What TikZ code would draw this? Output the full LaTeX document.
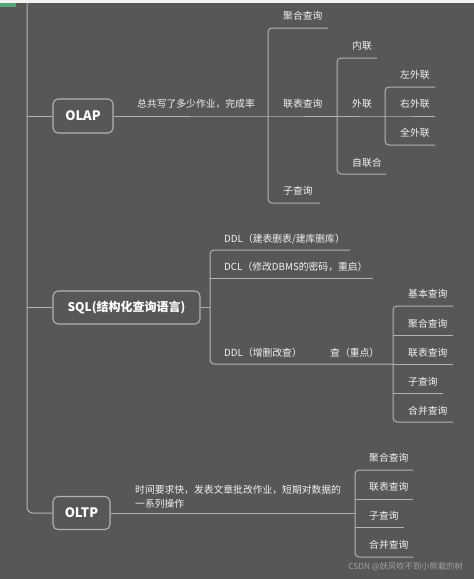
\documentclass[tikz,border=0pt]{standalone}
\usepackage{fontspec}
\newfontfamily\cjk{Noto Sans CJK SC}
\definecolor{bg}{HTML}{575855}
\definecolor{ln}{HTML}{B2B2B0}
\definecolor{txt}{HTML}{F2F2F2}
\definecolor{wm}{HTML}{A3A3A1}
\definecolor{grn}{HTML}{55A57C}
\tikzset{
  lbl/.style={anchor=west, inner sep=0pt, text=txt, font=\cjk\fontsize{9.8}{12}\selectfont},
  topic/.style={draw=ln, line width=1.1pt, rounded corners=5pt, fill=bg, text=white, inner sep=0pt,
    font=\cjk\bfseries\fontsize{13}{15}\selectfont},
  branch/.style={draw=ln, line width=1pt, rounded corners=4pt},
}
\begin{document}
\begin{tikzpicture}[x=1pt,y=-1pt]
\fill[bg] (0,0) rectangle (474,579);
\useasboundingbox (0,0) rectangle (474,579);
\fill[white!95!black] (0,0) rectangle (474,3);
\fill[grn] (0,3) rectangle (16,7);

% topics
\node[topic, minimum width=60pt, minimum height=34pt] (olap) at (83,116) {OLAP};
\node[topic, minimum width=147pt, minimum height=33pt, font=\cjk\bfseries\fontsize{12}{14}\selectfont] (sql) at (126.5,307.5) {SQL(结构化查询语言)};
\node[topic, minimum width=57pt, minimum height=33pt] (oltp) at (81.5,513) {OLTP};

% trunk
\coordinate (tr-top) at (27,3);
\coordinate (tr-olap) at (27,116);
\coordinate (tr-sql) at (27,307.5);
\coordinate (tr-bot) at (27,513);
\draw[branch, rounded corners=6pt] (tr-top) -- (tr-bot) -- (oltp.west);
\draw[branch] (tr-olap) -- (olap.west);
\draw[branch] (tr-sql) -- (sql.west);

% ---------- OLAP ----------
\coordinate (oj) at (268,116);
\coordinate (o-top) at (268,28);
\coordinate (o-bot) at (268,203);
\coordinate (o-e1) at (328,28);
\coordinate (o-e3) at (320,203);
\coordinate (lj) at (337,116);
\draw[branch] (olap.east) -- (oj) -- (lj);
\draw[branch] (o-e1) -- (o-top) -- (o-bot) -- (o-e3);
\node[lbl] (olapnote) at (137,104) {总共写了多少作业，完成率};
\node[lbl] (ojh) at (283,16) {聚合查询};
\node[lbl] (olb) at (283,104) {联表查询};
\node[lbl] (ozc) at (283,191) {子查询};

\coordinate (l-top) at (337,58);
\coordinate (l-bot) at (337,174);
\coordinate (l-e1) at (377,58);
\coordinate (l-e3) at (386,174);
\coordinate (wj) at (385,116);
\coordinate (w-e2) at (435,116);
\draw[branch] (l-e1) -- (l-top) -- (l-bot) -- (l-e3);
\draw[branch] (lj) -- (wj) -- (w-e2);
\node[lbl] (nl) at (352,46) {内联};
\node[lbl] (wl) at (352,104) {外联};
\node[lbl] (zl) at (352,163) {自联合};

\coordinate (w-top) at (385,87);
\coordinate (w-bot) at (385,145);
\coordinate (w-e1) at (435,87);
\coordinate (w-e3) at (435,145);
\draw[branch] (w-e1) -- (w-top) -- (w-bot) -- (w-e3);
\node[lbl] (zw) at (400,75) {左外联};
\node[lbl] (yw) at (400,104) {右外联};
\node[lbl] (qw) at (400,133) {全外联};

% ---------- SQL ----------
\coordinate (sj) at (210,307.5);
\coordinate (s-top) at (210,250);
\coordinate (s-mid) at (210,278);
\coordinate (s-bot) at (210,364);
\coordinate (s-e1) at (350,250);
\coordinate (s-e2) at (373,278);
\coordinate (cj) at (393,364);
\draw[branch] (sql.east) -- (sj);
\draw[branch] (s-e1) -- (s-top) -- (s-bot) -- (cj);
\draw[branch] (s-mid) -- (s-e2);
\node[lbl] (ddl1) at (224,239) {DDL（建表删表/建库删库）};
\node[lbl] (dcl) at (224,267) {DCL（修改DBMS的密码，重启）};
\node[lbl] (ddl2) at (224,353) {DDL（增删改查）};
\node[lbl] (cha) at (330,353) {查（重点）};

\coordinate (c-top) at (393,306);
\coordinate (c-bot) at (393,422);
\coordinate (c-e1) at (453,306);
\coordinate (c-e5) at (453,422);
\coordinate (c-j2) at (393,335);
\coordinate (c-e2) at (453,335);
\coordinate (c-e3) at (453,364);
\coordinate (c-j4) at (393,393);
\coordinate (c-e4) at (443,393);
\draw[branch] (c-e1) -- (c-top) -- (c-bot) -- (c-e5);
\draw[branch] (c-j2) -- (c-e2);
\draw[branch] (cj) -- (c-e3);
\draw[branch] (c-j4) -- (c-e4);
\node[lbl] (c1) at (408,294) {基本查询};
\node[lbl] (c2) at (408,324) {聚合查询};
\node[lbl] (c3) at (408,353) {联表查询};
\node[lbl] (c4) at (408,382) {子查询};
\node[lbl] (c5) at (408,411) {合并查询};

% ---------- OLTP ----------
\coordinate (tj) at (355,513);
\coordinate (t-top) at (355,470);
\coordinate (t-bot) at (355,557);
\coordinate (t-e1) at (413,470);
\coordinate (t-e4) at (413,557);
\coordinate (t-j2) at (355,499);
\coordinate (t-e2) at (413,499);
\coordinate (t-j3) at (355,527);
\coordinate (t-e3) at (404,527);
\draw[branch] (oltp.east) -- (tj);
\draw[branch] (t-e1) -- (t-top) -- (t-bot) -- (t-e4);
\draw[branch] (t-j2) -- (t-e2);
\draw[branch] (t-j3) -- (t-e3);
\node[lbl, align=left, font=\cjk\fontsize{9.8}{14}\selectfont] (oltpnote) at (135,497) {时间要求快，发表文章批改作业，短期对数据的\\一系列操作};
\node[lbl] (t1) at (369,458) {聚合查询};
\node[lbl] (t2) at (369,487) {联表查询};
\node[lbl] (t3) at (369,516) {子查询};
\node[lbl] (t4) at (369,545) {合并查询};

\node[anchor=east, inner sep=0pt, text=wm, font=\cjk\fontsize{8.3}{10}\selectfont] (wmk) at (463,567) {CSDN @妖风吹不到小熊栽的树};
\end{tikzpicture}
\end{document}
